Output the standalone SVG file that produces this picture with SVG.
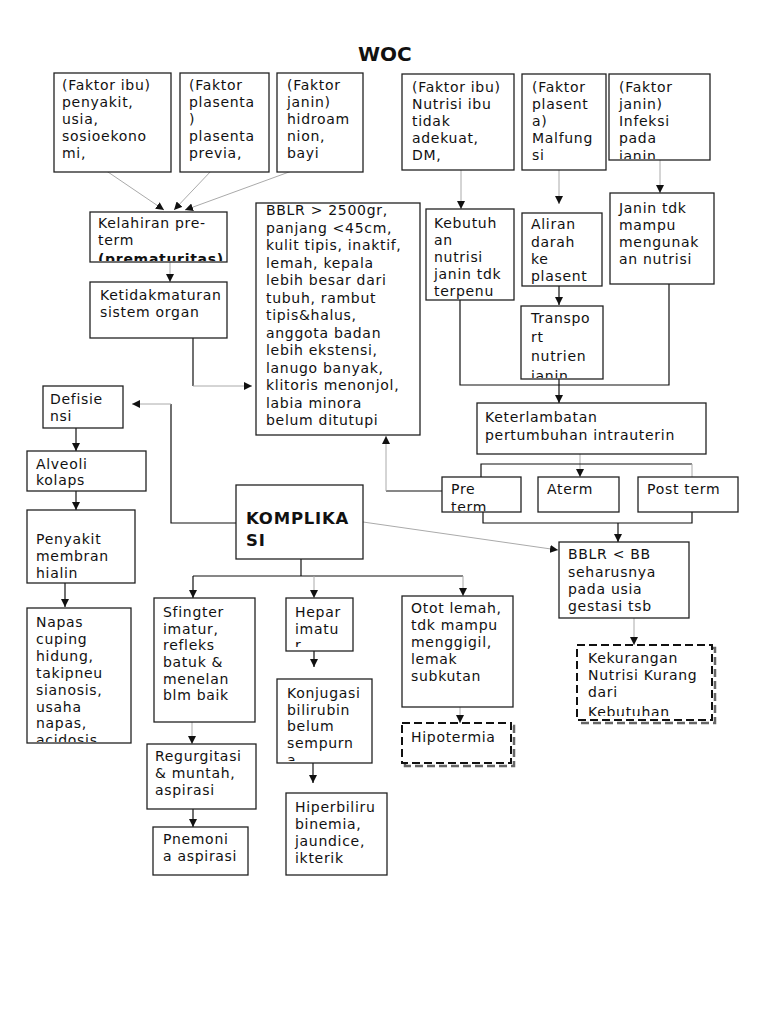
<svg xmlns="http://www.w3.org/2000/svg" width="768" height="1024" viewBox="0 0 768 1024">
<style>
.box{fill:#fff;stroke:#222;stroke-width:1.3}
.dbox{fill:#fff;stroke:#111;stroke-width:2;stroke-dasharray:8 4}
.sh{fill:none;stroke:#666;stroke-width:2.5;stroke-dasharray:8 4}
.t{font-family:"DejaVu Sans",Verdana,sans-serif;font-size:14px;letter-spacing:0.7px;fill:#111}
.b{font-weight:bold}
.ln{stroke:#111;stroke-width:1.2;fill:none}
.lg{stroke:#aaa;stroke-width:1;fill:none}
</style>
<defs>
<marker id="a" viewBox="0 0 10 10" refX="10" refY="5" markerWidth="8" markerHeight="8" markerUnits="userSpaceOnUse" orient="auto"><path d="M0,0 L10,5 L0,10 z" fill="#111"/></marker>
<clipPath id="c6"><rect x="609" y="74" width="101" height="85"/></clipPath>
<clipPath id="c7"><rect x="90" y="212" width="137" height="49"/></clipPath>
<clipPath id="c10"><rect x="426" y="209" width="88" height="90"/></clipPath>
<clipPath id="c11"><rect x="522" y="213" width="80" height="72"/></clipPath>
<clipPath id="c12"><rect x="521" y="306" width="82" height="72"/></clipPath>
<clipPath id="c15"><rect x="442" y="477" width="79" height="34"/></clipPath>
<clipPath id="c19"><rect x="577" y="645" width="135" height="71"/></clipPath>
<clipPath id="c24"><rect x="27" y="608" width="104" height="134"/></clipPath>
<clipPath id="c26"><rect x="286" y="598" width="67" height="49"/></clipPath>
<clipPath id="c27"><rect x="277" y="679" width="95" height="82"/></clipPath>
</defs>
<rect width="768" height="1024" fill="#fff"/>
<text x="358" y="61" font-family="DejaVu Sans,Verdana,sans-serif" font-size="20" font-weight="bold" fill="#111">WOC</text>

<g id="connectors">
<line class="lg" x1="105" y1="170" x2="164" y2="210" marker-end="url(#a)"/>
<line class="lg" x1="212" y1="170" x2="174" y2="210" marker-end="url(#a)"/>
<line class="lg" x1="300" y1="168" x2="185" y2="210" marker-end="url(#a)"/>
<line class="lg" x1="461" y1="170" x2="461" y2="209" marker-end="url(#a)"/>
<line class="lg" x1="559" y1="170" x2="559" y2="204" marker-end="url(#a)"/>
<line class="lg" x1="660" y1="160" x2="660" y2="193" marker-end="url(#a)"/>
<line class="ln" x1="559" y1="286" x2="559" y2="305" marker-end="url(#a)"/>
<polyline class="ln" points="460,300 460,385 669,385 669,284"/>
<line class="ln" x1="559" y1="379" x2="559" y2="403" marker-end="url(#a)"/>
<line class="lg" x1="580" y1="454" x2="580" y2="477" marker-end="url(#a)"/>
<polyline class="ln" points="481,477 481,464 692,464"/>
<line class="lg" x1="692" y1="464" x2="692" y2="477"/>
<polyline class="ln" points="483,512 483,523 692,523 692,512"/>
<line class="ln" x1="618" y1="523" x2="618" y2="542" marker-end="url(#a)"/>
<line class="ln" x1="442" y1="491" x2="386" y2="491"/>
<line class="lg" x1="386" y1="491" x2="386" y2="436" marker-end="url(#a)"/>
<line class="lg" x1="170" y1="262" x2="170" y2="282" marker-end="url(#a)"/>
<line class="ln" x1="193" y1="338" x2="193" y2="386"/>
<line class="lg" x1="193" y1="386" x2="252" y2="386" marker-end="url(#a)"/>
<polyline class="ln" points="236,523 171,523 171,404"/>
<line class="lg" x1="171" y1="404" x2="132" y2="404" marker-end="url(#a)"/>
<line class="lg" x1="363" y1="522" x2="558" y2="550" marker-end="url(#a)"/>
<line class="ln" x1="301" y1="559" x2="301" y2="576"/>
<line class="ln" x1="193" y1="576" x2="463" y2="576"/>
<line class="ln" x1="193" y1="576" x2="193" y2="598" marker-end="url(#a)"/>
<line class="lg" x1="314" y1="576" x2="314" y2="598" marker-end="url(#a)"/>
<line class="lg" x1="463" y1="576" x2="463" y2="596" marker-end="url(#a)"/>
<line class="ln" x1="314" y1="651" x2="314" y2="667" marker-end="url(#a)"/>
<line class="ln" x1="313" y1="763" x2="313" y2="783" marker-end="url(#a)"/>
<line class="lg" x1="192" y1="722" x2="192" y2="744" marker-end="url(#a)"/>
<line class="ln" x1="193" y1="809" x2="193" y2="827" marker-end="url(#a)"/>
<line class="lg" x1="460" y1="707" x2="460" y2="723" marker-end="url(#a)"/>
<line class="ln" x1="76" y1="428" x2="76" y2="451" marker-end="url(#a)"/>
<line class="ln" x1="76" y1="491" x2="76" y2="510" marker-end="url(#a)"/>
<line class="ln" x1="65" y1="583" x2="65" y2="607" marker-end="url(#a)"/>
<line class="lg" x1="634" y1="618" x2="634" y2="645" marker-end="url(#a)"/>
</g>

<g id="n1"><rect class="box" x="54" y="73" width="117" height="99"/>
<text class="t"><tspan x="62" y="90">(Faktor ibu)</tspan><tspan x="62" y="107">penyakit,</tspan><tspan x="62" y="124">usia,</tspan><tspan x="62" y="141">sosioekono</tspan><tspan x="62" y="158">mi,</tspan></text></g>
<g id="n2"><rect class="box" x="180" y="73" width="89" height="99"/>
<text class="t"><tspan x="189" y="90">(Faktor</tspan><tspan x="189" y="107">plasenta</tspan><tspan x="189" y="124">)</tspan><tspan x="189" y="141">plasenta</tspan><tspan x="189" y="158">previa,</tspan></text></g>
<g id="n3"><rect class="box" x="277" y="73" width="86" height="99"/>
<text class="t"><tspan x="287" y="90">(Faktor</tspan><tspan x="287" y="107">janin)</tspan><tspan x="287" y="124">hidroam</tspan><tspan x="287" y="141">nion,</tspan><tspan x="287" y="158">bayi</tspan></text></g>
<g id="n4"><rect class="box" x="402" y="74" width="112" height="96"/>
<text class="t"><tspan x="412" y="92">(Faktor ibu)</tspan><tspan x="412" y="109">Nutrisi ibu</tspan><tspan x="412" y="126">tidak</tspan><tspan x="412" y="143">adekuat,</tspan><tspan x="412" y="160">DM,</tspan></text></g>
<g id="n5"><rect class="box" x="522" y="74" width="84" height="96"/>
<text class="t"><tspan x="532" y="92">(Faktor</tspan><tspan x="532" y="109">plasent</tspan><tspan x="532" y="126">a)</tspan><tspan x="532" y="143">Malfung</tspan><tspan x="532" y="160">si</tspan></text></g>
<g id="n6"><rect class="box" x="609" y="74" width="101" height="86"/>
<text class="t" clip-path="url(#c6)"><tspan x="619" y="92">(Faktor</tspan><tspan x="619" y="109">janin)</tspan><tspan x="619" y="126">Infeksi</tspan><tspan x="619" y="143">pada</tspan><tspan x="619" y="161">janin</tspan></text></g>
<g id="n7"><rect class="box" x="90" y="212" width="137" height="50"/>
<text class="t" clip-path="url(#c7)"><tspan x="98" y="228">Kelahiran pre-</tspan><tspan x="98" y="245">term</tspan><tspan x="98" y="264" class="b">(prematuritas)</tspan></text></g>
<g id="n8"><rect class="box" x="90" y="282" width="137" height="56"/>
<text class="t"><tspan x="100" y="300">Ketidakmaturan</tspan><tspan x="100" y="317">sistem organ</tspan></text></g>
<g id="n9"><rect class="box" x="256" y="203" width="164" height="232"/>
<text class="t"><tspan x="266" y="215">BBLR &gt; 2500gr,</tspan><tspan x="266" y="232.5">panjang &lt;45cm,</tspan><tspan x="266" y="250">kulit tipis, inaktif,</tspan><tspan x="266" y="267.5">lemah, kepala</tspan><tspan x="266" y="285">lebih besar dari</tspan><tspan x="266" y="302.5">tubuh, rambut</tspan><tspan x="266" y="320">tipis&amp;halus,</tspan><tspan x="266" y="337.5">anggota badan</tspan><tspan x="266" y="355">lebih ekstensi,</tspan><tspan x="266" y="372.5">lanugo banyak,</tspan><tspan x="266" y="390">klitoris menonjol,</tspan><tspan x="266" y="407.5">labia minora</tspan><tspan x="266" y="425">belum ditutupi</tspan></text></g>
<g id="n10"><rect class="box" x="426" y="209" width="88" height="91"/>
<text class="t" clip-path="url(#c10)"><tspan x="434" y="228">Kebutuh</tspan><tspan x="434" y="245">an</tspan><tspan x="434" y="262">nutrisi</tspan><tspan x="434" y="279">janin tdk</tspan><tspan x="434" y="296">terpenu</tspan></text></g>
<g id="n11"><rect class="box" x="522" y="213" width="80" height="73"/>
<text class="t" clip-path="url(#c11)"><tspan x="531" y="229">Aliran</tspan><tspan x="531" y="246.5">darah</tspan><tspan x="531" y="264">ke</tspan><tspan x="531" y="281">plasent</tspan></text></g>
<g id="n12"><rect class="box" x="521" y="306" width="82" height="73"/>
<text class="t" clip-path="url(#c12)"><tspan x="531" y="323">Transpo</tspan><tspan x="531" y="342">rt</tspan><tspan x="531" y="361">nutrien</tspan><tspan x="531" y="381">janin</tspan></text></g>
<g id="n13"><rect class="box" x="610" y="193" width="104" height="91"/>
<text class="t"><tspan x="619" y="213">Janin tdk</tspan><tspan x="619" y="230">mampu</tspan><tspan x="619" y="247">mengunak</tspan><tspan x="619" y="263.5">an nutrisi</tspan></text></g>
<g id="n14"><rect class="box" x="477" y="403" width="229" height="51"/>
<text class="t"><tspan x="485" y="422">Keterlambatan</tspan><tspan x="485" y="440">pertumbuhan intrauterin</tspan></text></g>
<g id="n15"><rect class="box" x="442" y="477" width="79" height="35"/>
<text class="t" clip-path="url(#c15)"><tspan x="451" y="494">Pre</tspan><tspan x="451" y="512">term</tspan></text></g>
<g id="n16"><rect class="box" x="538" y="477" width="81" height="35"/>
<text class="t" x="547" y="494">Aterm</text></g>
<g id="n17"><rect class="box" x="638" y="477" width="100" height="35"/>
<text class="t" x="647" y="494">Post term</text></g>
<g id="n18"><rect class="box" x="559" y="542" width="130" height="76"/>
<text class="t"><tspan x="568" y="559">BBLR &lt; BB</tspan><tspan x="568" y="577">seharusnya</tspan><tspan x="568" y="594">pada usia</tspan><tspan x="568" y="611">gestasi tsb</tspan></text></g>
<g id="n19"><rect class="sh" x="580" y="648" width="135" height="75"/><rect class="dbox" x="577" y="645" width="135" height="75"/>
<text class="t" clip-path="url(#c19)"><tspan x="588" y="663">Kekurangan</tspan><tspan x="588" y="680">Nutrisi Kurang</tspan><tspan x="588" y="697">dari</tspan><tspan x="588" y="717">Kebutuhan</tspan></text></g>
<g id="n20"><rect class="box" x="236" y="485" width="127" height="74"/>
<text class="t b" style="font-size:16.5px;letter-spacing:0.8px"><tspan x="246" y="524">KOMPLIKA</tspan><tspan x="246" y="546">SI</tspan></text></g>
<g id="n21"><rect class="box" x="43" y="386" width="80" height="42"/>
<text class="t"><tspan x="50" y="404">Defisie</tspan><tspan x="50" y="421">nsi</tspan></text></g>
<g id="n22"><rect class="box" x="27" y="451" width="119" height="40"/>
<text class="t"><tspan x="36" y="469">Alveoli</tspan><tspan x="36" y="485">kolaps</tspan></text></g>
<g id="n23"><rect class="box" x="27" y="510" width="108" height="73"/>
<text class="t"><tspan x="36" y="544">Penyakit</tspan><tspan x="36" y="561">membran</tspan><tspan x="36" y="578">hialin</tspan></text></g>
<g id="n24"><rect class="box" x="27" y="608" width="104" height="135"/>
<text class="t" clip-path="url(#c24)"><tspan x="36" y="627">Napas</tspan><tspan x="36" y="644">cuping</tspan><tspan x="36" y="661">hidung,</tspan><tspan x="36" y="678">takipneu</tspan><tspan x="36" y="695">sianosis,</tspan><tspan x="36" y="711.5">usaha</tspan><tspan x="36" y="728">napas,</tspan><tspan x="36" y="745">acidosis</tspan></text></g>
<g id="n25"><rect class="box" x="154" y="598" width="101" height="124"/>
<text class="t"><tspan x="163" y="617">Sfingter</tspan><tspan x="163" y="633.5">imatur,</tspan><tspan x="163" y="650">refleks</tspan><tspan x="163" y="667">batuk &amp;</tspan><tspan x="163" y="683.5">menelan</tspan><tspan x="163" y="700">blm baik</tspan></text></g>
<g id="n26"><rect class="box" x="286" y="598" width="67" height="53"/>
<text class="t" clip-path="url(#c26)"><tspan x="295" y="617">Hepar</tspan><tspan x="295" y="633.5">imatu</tspan><tspan x="295" y="650">r</tspan></text></g>
<g id="n27"><rect class="box" x="277" y="679" width="95" height="84"/>
<text class="t" clip-path="url(#c27)"><tspan x="287" y="698">Konjugasi</tspan><tspan x="287" y="714.5">bilirubin</tspan><tspan x="287" y="731">belum</tspan><tspan x="287" y="748">sempurn</tspan><tspan x="287" y="765">a</tspan></text></g>
<g id="n28"><rect class="box" x="286" y="793" width="101" height="82"/>
<text class="t"><tspan x="295" y="812">Hiperbiliru</tspan><tspan x="295" y="829">binemia,</tspan><tspan x="295" y="846">jaundice,</tspan><tspan x="295" y="863">ikterik</tspan></text></g>
<g id="n29"><rect class="box" x="147" y="744" width="109" height="65"/>
<text class="t"><tspan x="155" y="761">Regurgitasi</tspan><tspan x="155" y="778">&amp; muntah,</tspan><tspan x="155" y="795">aspirasi</tspan></text></g>
<g id="n30"><rect class="box" x="153" y="827" width="95" height="48"/>
<text class="t"><tspan x="163" y="843.5">Pnemoni</tspan><tspan x="163" y="860.5">a aspirasi</tspan></text></g>
<g id="n31"><rect class="box" x="402" y="596" width="111" height="111"/>
<text class="t"><tspan x="411" y="613">Otot lemah,</tspan><tspan x="411" y="630">tdk mampu</tspan><tspan x="411" y="647">menggigil,</tspan><tspan x="411" y="664">lemak</tspan><tspan x="411" y="681">subkutan</tspan></text></g>
<g id="n32"><rect class="sh" x="405" y="726" width="109" height="40"/><rect class="dbox" x="402" y="723" width="109" height="40"/>
<text class="t" x="411" y="742">Hipotermia</text></g>
</svg>
